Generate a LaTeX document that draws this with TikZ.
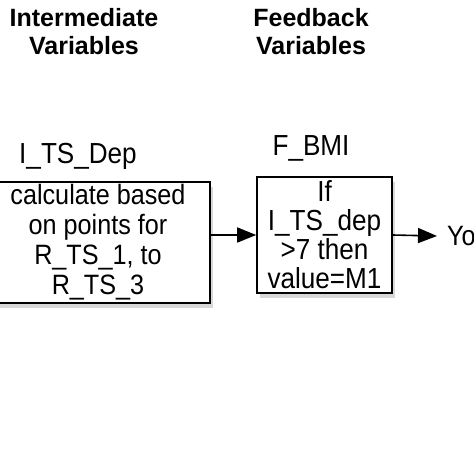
\documentclass[tikz,border=0pt]{standalone}
\usepackage{fontspec}
\setmainfont{Liberation Sans}
\newfontfamily\narrowsans{Liberation Sans}[FakeStretch=0.9]
\usepackage{tikz}
\usetikzlibrary{arrows.meta, positioning, shadows}
\tikzset{
  % Rule boxes
  rulebox/.style={
    rectangle, draw=black, fill=white, line width=1.6pt,
    align=center, inner xsep=2pt, inner ysep=0pt,
    font=\narrowsans\fontsize{28}{30}\selectfont,
    drop shadow={shadow xshift=3pt, shadow yshift=-5pt, opacity=0.3},
  },
  % Column headings
  coltitle/.style={font=\fontsize{25}{28}\selectfont\bfseries, align=center, inner sep=2pt},
  % Variable names
  varname/.style={font=\narrowsans\fontsize{29}{30}\selectfont, inner sep=3pt},
  % Arrows
  flowarrow/.style={-{Triangle[length=19pt, width=15pt]}, line width=1.6pt},
}
\begin{document}
\begin{tikzpicture}[x=1pt, y=-1pt]
  \useasboundingbox[fill=white] (0,0) rectangle (474,474);

  % Column headings
  \node[coltitle] (interhead) at (84, 32) {Intermediate\\Variables};
  \node[coltitle] (feedhead) at (311, 32) {Feedback\\Variables};

  % Variable names
  \node[varname] (itsdep) at (78, 156) {I\_TS\_Dep};
  \node[varname] (fbmi) at (311, 148) {F\_BMI};

  % Boxes
  \node[rulebox, minimum width=224pt, minimum height=121pt] (calc) at (98, 242.5) {
    calculate based\\on points for\\R\_TS\_1, to\\R\_TS\_3
  };
  \node[rulebox, minimum width=135pt, minimum height=116pt,
        font=\narrowsans\fontsize{29}{29}\selectfont] (rule) at (324.5, 235) {
    If\\I\_TS\_dep\\>7 then\\value=M1
  };

  % Output
  \node[varname, font=\narrowsans\fontsize{28}{30}\selectfont, anchor=west, inner xsep=10pt] (out) at (437, 236) {Yo};

  % Arrows
  \draw[flowarrow] (calc.east |- rule.west) -- (rule.west);
  \draw[flowarrow] (rule.east) -- (out.west);

\end{tikzpicture}
\end{document}
